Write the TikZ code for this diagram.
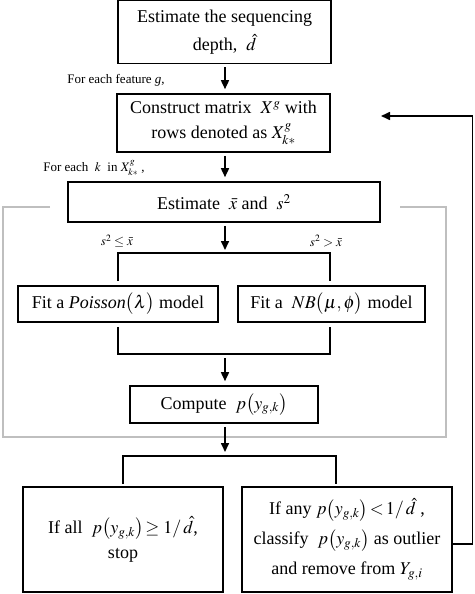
\documentclass[tikz,border=0pt]{standalone}
\usepackage{mathptmx}
\usepackage{fontspec}
\setmainfont{Liberation Serif}
\usetikzlibrary{arrows.meta}
\begin{document}
\begin{tikzpicture}[x=1pt,y=-1pt,
  box/.style={draw, line width=1.6pt, inner sep=0pt, align=center, font=\fontsize{18}{25}\selectfont},
  ln/.style={line width=1.6pt},
  arr/.style={line width=1.6pt, -{Triangle[length=9pt,width=8pt]}, shorten <=3pt, shorten >=4pt},
  lbl/.style={font=\fontsize{13}{15}\selectfont, inner sep=0pt},
  frame/.style={draw=black!25, line width=1.6pt}]
\useasboundingbox (0,0) rectangle (474,594);
% gray frame
\draw[frame] (50,207) -- (3,207) -- (3,437) -- (446,437) -- (446,207) -- (400,207);
% boxes
\node[box, minimum width=213pt, minimum height=63pt, font=\fontsize{18}{28}\selectfont] (b1) at (224.5,32) {Estimate the sequencing\\ depth, \ $\hat{d}$};
\node[box, minimum width=213pt, minimum height=58pt] (b2) at (223.5,123) {Construct matrix \ $X^{g}$ with\\ rows denoted as $X^{g}_{k*}$};
\node[box, minimum width=312pt, minimum height=40pt, fill=white] (b3) at (224,202) {Estimate \ $\bar{x}$ and \ $s^{2}$};
\node[box, minimum width=200pt, minimum height=36pt] (b4) at (118,304) {Fit a \textit{Poisson}$\bigl(\lambda\bigr)$ model};
\node[box, minimum width=187pt, minimum height=36pt] (b5) at (331.5,304) {Fit a \ $NB\bigl(\mu,\phi\bigr)$ model};
\node[box, minimum width=188pt, minimum height=37pt] (b6) at (224,404.5) {Compute \ $p\bigl(y_{g,k}\bigr)$};
\node[box, minimum width=200pt, minimum height=105pt] (b7) at (123,539.5) {If all \ $p\bigl(y_{g,k}\bigr)\!\ge 1/\,\hat{d}$,\\ stop};
\node[box, minimum width=210pt, minimum height=105pt, font=\fontsize{18}{30}\selectfont] (b8) at (347,539.5) {If any $p\bigl(y_{g,k}\bigr)\!<\!1/\,\hat{d}$ ,\\ classify \ $p\bigl(y_{g,k}\bigr)$ as outlier\\ and remove from $Y_{g,i}$};
% labels
\node[lbl] (l1) at (116,80) {For each feature \textit{g},};
\node[lbl] (l2) at (94,168) {For each \ $k$ \ in $X^{g}_{k*}$ ,};
\node[lbl] (l3) at (117,241) {$s^{2}\le\bar{x}$};
\node[lbl] (l4) at (326,241) {$s^{2}>\bar{x}$};
% coordinates
\coordinate (s1) at (225,253);
\coordinate (m1) at (225,354);
\coordinate (s2) at (225,456);
\coordinate (fb) at (381,116);
% connectors
\draw[arr] (b1.south -| 225,0) -- (b2.north -| 225,0);
\draw[arr] (b2.south -| 225,0) -- (b3.north -| 225,0);
\draw[arr, shorten >=3pt] (b3.south -| 225,0) -- (s1);
\draw[ln, shorten <=4pt, shorten >=4pt] (b4.north) -- (b4.north |- s1) -- (330,253) -- (b5.north -| 330,0);
\draw[ln, shorten <=4pt, shorten >=4pt] (b4.south) -- (b4.south |- m1) -- (330,354) -- (b5.south -| 330,0);
\draw[arr, shorten <=4pt] (m1) -- (b6.north -| 225,0);
\draw[arr, shorten >=4pt] (b6.south -| 225,0) -- (s2);
\draw[ln, shorten <=2pt, shorten >=2pt] (b7.north) -- (b7.north |- s2) -- (336,456) -- (b8.north -| 336,0);
\draw[ln, -{Triangle[length=9pt,width=8pt]}] (b8.east |- 0,544) -- (472.5,544) -- (472.5,116) -- (fb);
\end{tikzpicture}
\end{document}
